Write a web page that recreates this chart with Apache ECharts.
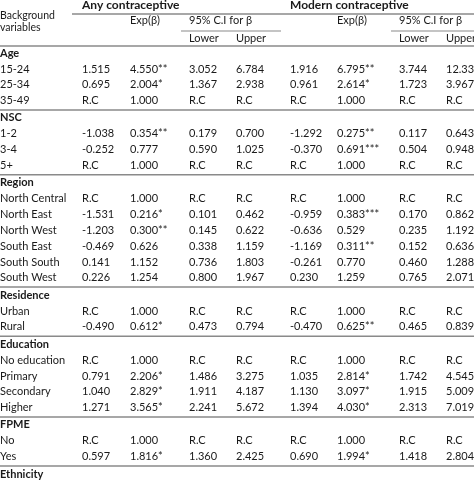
<!DOCTYPE html>
<html><head><meta charset="utf-8">
<script src="https://cdn.jsdelivr.net/npm/echarts@6/dist/echarts.min.js"></script>
<style>html,body{margin:0;padding:0;background:#fff}#c{width:474px;height:484px}</style>
</head><body><div id="c"></div>
<script>
const groups = ["Any contraceptive", "Modern contraceptive"];
const sections = [
 {title:"Age", rows:[
  ["15-24","1.515","4.550**","3.052","6.784","1.916","6.795**","3.744","12.33"],
  ["25-34","0.695","2.004*","1.367","2.938","0.961","2.614*","1.723","3.967"],
  ["35-49","R.C","1.000","R.C","R.C","R.C","1.000","R.C","R.C"]]},
 {title:"NSC", rows:[
  ["1-2","-1.038","0.354**","0.179","0.700","-1.292","0.275**","0.117","0.643"],
  ["3-4","-0.252","0.777","0.590","1.025","-0.370","0.691***","0.504","0.948"],
  ["5+","R.C","1.000","R.C","R.C","R.C","1.000","R.C","R.C"]]},
 {title:"Region", rows:[
  ["North Central","R.C","1.000","R.C","R.C","R.C","1.000","R.C","R.C"],
  ["North East","-1.531","0.216*","0.101","0.462","-0.959","0.383***","0.170","0.862"],
  ["North West","-1.203","0.300**","0.145","0.622","-0.636","0.529","0.235","1.192"],
  ["South East","-0.469","0.626","0.338","1.159","-1.169","0.311**","0.152","0.636"],
  ["South South","0.141","1.152","0.736","1.803","-0.261","0.770","0.460","1.288"],
  ["South West","0.226","1.254","0.800","1.967","0.230","1.259","0.765","2.071"]]},
 {title:"Residence", rows:[
  ["Urban","R.C","1.000","R.C","R.C","R.C","1.000","R.C","R.C"],
  ["Rural","-0.490","0.612*","0.473","0.794","-0.470","0.625**","0.465","0.839"]]},
 {title:"Education", rows:[
  ["No education","R.C","1.000","R.C","R.C","R.C","1.000","R.C","R.C"],
  ["Primary","0.791","2.206*","1.486","3.275","1.035","2.814*","1.742","4.545"],
  ["Secondary","1.040","2.829*","1.911","4.187","1.130","3.097*","1.915","5.009"],
  ["Higher","1.271","3.565*","2.241","5.672","1.394","4.030*","2.313","7.019"]]},
 {title:"FPME", rows:[
  ["No","R.C","1.000","R.C","R.C","R.C","1.000","R.C","R.C"],
  ["Yes","0.597","1.816*","1.360","2.425","0.690","1.994*","1.418","2.804"]]},
 {title:"Ethnicity", rows:[
  ["Hausa","R.C","1.000","R.C","R.C","R.C","1.000","R.C","R.C"]]}
];
const headerLabels = ["Background\nvariables","Exp(β)","95% C.I for β","Lower","Upper"];

const FONT = "Lato, 'DejaVu Sans', sans-serif";
const colX = [0, 82, 130, 189, 236, 290, 337, 399, 446];
const LINE = '#8a8a8a', TXT = '#1a1a1a';
const els = [];
function txt(x,y,s,bold,size){els.push({type:'text',x:x,y:y,style:{text:s,fill:TXT,font:(bold?'bold ':'')+(size||11)+'px '+FONT,textVerticalAlign:'middle'}});}
function hline(x1,x2,y,w){els.push({type:'line',shape:{x1:x1,y1:y,x2:x2,y2:y},style:{stroke:LINE,lineWidth:w||1.5}});}

// header
txt(82,5,groups[0],true,12); txt(290,5,groups[1],true,12);
hline(72,474,14,1.5);
els.push({type:'text',x:0,y:22,style:{text:headerLabels[0],fill:TXT,font:'10.5px '+FONT,textVerticalAlign:'middle',lineHeight:12}});
txt(130,20,headerLabels[1]); txt(337,20,headerLabels[1]);
txt(189,20,headerLabels[2]); txt(399,20,headerLabels[2]);
hline(181,281,31,1.2); hline(391,474,31,1.2);
txt(189,38,headerLabels[3]); txt(236,38,headerLabels[4]);
txt(399,38,headerLabels[3]); txt(446,38,headerLabels[4]);
hline(0,474,46,1.5);

let y = 53;
sections.forEach((s,i)=>{
  txt(0,y,s.title,true,11);
  y += 16;
  s.rows.forEach(r=>{ r.forEach((v,j)=>txt(colX[j],y,v)); y += 15.8; });
  if(i < sections.length-1){ hline(0,474,y-6.5,1.5); y += 1.5; }
});

const chart = echarts.init(document.getElementById('c'));
chart.setOption({animation:false, graphic:els});
</script></body></html>
